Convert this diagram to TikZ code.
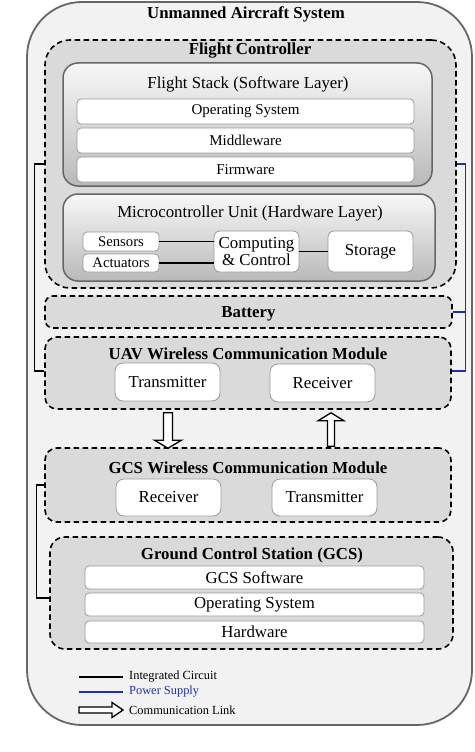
\documentclass[tikz,border=0pt]{standalone}
\usepackage{fontspec}
\setmainfont{Liberation Serif}
\usetikzlibrary{arrows.meta,calc}
\definecolor{outerfill}{HTML}{F2F2F2}
\definecolor{outerdraw}{HTML}{666666}
\definecolor{dashfill}{HTML}{DADADA}
\definecolor{boxdraw}{HTML}{9A9A9A}
\definecolor{pwr}{HTML}{1F2FB0}
\tikzset{
  big/.style={font=\fontsize{16.8}{18}\selectfont},
  mid/.style={font=\fontsize{15}{16}\selectfont},
  sml/.style={font=\fontsize{14.7}{16}\selectfont},
  bigb/.style={font=\fontsize{16.8}{18}\selectfont\bfseries},
  dashbox/.style={draw=black, line width=1.6pt, dash pattern=on 5.5pt off 3.5pt, fill=dashfill, inner sep=0pt},
  layerbox/.style={draw=outerdraw, line width=1.5pt, top color=gray!6, bottom color=gray!55, rounded corners=15pt, inner sep=0pt},
  whitebox/.style={draw=boxdraw, line width=0.8pt, fill=white, rounded corners=4pt, inner sep=0pt},
  ic/.style={draw=black, line width=1.2pt},
  ps/.style={draw=pwr, line width=1.2pt},
  hollow/.style={draw=black, line width=1.3pt, fill=white, line join=miter},
}
\begin{document}
\begin{tikzpicture}[x=1pt, y=-1pt]
\useasboundingbox (0,0) rectangle (474,752);
% outer
\node[draw=outerdraw, line width=1.8pt, fill=outerfill, rounded corners=55pt, minimum width=445pt, minimum height=723pt, inner sep=0pt] (uas) at (249.5,363.5) {};
\node[bigb] (uastitle) at (246,14) {Unmanned Aircraft System};
% flight controller
\node[dashbox, rounded corners=25pt, minimum width=411pt, minimum height=248pt] (fc) at (250.5,164) {};
\node[bigb] (fctitle) at (250,51) {Flight Controller};
% flight stack
\node[layerbox, minimum width=369pt, minimum height=123pt] (fs) at (247.5,124.5) {};
\node[big] (fstitle) at (248,84) {Flight Stack (Software Layer)};
\node[whitebox, mid, minimum width=337pt, minimum height=25pt] (os1) at (245.5,111.5) {Operating System};
\node[whitebox, mid, minimum width=337pt, minimum height=25pt] (mw) at (245.5,140.5) {Middleware};
\node[whitebox, mid, minimum width=337pt, minimum height=25pt] (fw) at (245.5,169.5) {Firmware};
% MCU
\node[layerbox, minimum width=372pt, minimum height=87pt] (mcu) at (249,237.5) {};
\node[big] (mcutitle) at (250,213) {Microcontroller Unit (Hardware Layer)};
\node[whitebox, sml, minimum width=76pt, minimum height=19pt] (sens) at (121,241.5) {Sensors};
\node[whitebox, sml, minimum width=76pt, minimum height=18pt] (act) at (121,263) {Actuators};
\node[whitebox, big, rounded corners=6pt, minimum width=85pt, minimum height=41pt, align=center] (cc) at (256.5,251.5) {\fontsize{16.8}{19}\selectfont Computing\\[-1pt]\fontsize{16.8}{19}\selectfont \& Control};
\node[whitebox, big, rounded corners=6pt, minimum width=85pt, minimum height=41pt] (stor) at (370.5,251.5) {Storage};
\draw[ic] (sens.east) -- (sens.east -| cc.west);
\draw[ic] (act.east) -- (act.east -| cc.west);
\draw[ic] (cc.east) -- (stor.west);
% battery
\node[dashbox, rounded corners=8pt, minimum width=407pt, minimum height=32pt] (bat) at (248.5,312) {};
\node[bigb] (battitle) at ($(bat.center)+(0,2)$) {Battery};
% UAV comm
\node[dashbox, rounded corners=12pt, minimum width=406pt, minimum height=72pt] (uav) at (248,373) {};
\node[bigb] (uavtitle) at (248,354) {UAV Wireless Communication Module};
\node[whitebox, big, rounded corners=8pt, minimum width=105pt, minimum height=38pt] (uavtx) at (167.5,382) {Transmitter};
\node[whitebox, big, rounded corners=8pt, minimum width=105pt, minimum height=38pt] (uavrx) at (322.5,383) {Receiver};
% GCS comm
\node[dashbox, rounded corners=12pt, minimum width=406pt, minimum height=74pt] (gcsw) at (248,485) {};
\node[bigb] (gcswtitle) at (248,468) {GCS Wireless Communication Module};
\node[whitebox, big, rounded corners=8pt, minimum width=105pt, minimum height=37pt] (gcsrx) at (168.5,497.5) {Receiver};
\node[whitebox, big, rounded corners=8pt, minimum width=105pt, minimum height=37pt] (gcstx) at (324.5,497.5) {Transmitter};
% GCS
\node[dashbox, rounded corners=15pt, minimum width=403pt, minimum height=112pt] (gcs) at (251.5,593) {};
\node[bigb] (gcstitle) at (252,555) {Ground Control Station (GCS)};
\node[whitebox, big, minimum width=339pt, minimum height=23pt] (gsw) at (254.5,577.5) {GCS Software};
\node[whitebox, big, minimum width=339pt, minimum height=23pt] (gos) at (254.5,604.5) {Operating System};
\node[whitebox, big, minimum width=339pt, minimum height=22pt] (ghw) at (254.5,632) {Hardware};
% connectors
\draw[ic] (fc.west) -- ++(-10,0) |- ($(uav.west)+(0,-2)$);
\draw[ic] (gcsw.west) -- ++(-8,0) |- ($(gcs.west)+(0,5)$);
\draw[ps] (fc.east) -- ++(9,0) coordinate (pb) |- ($(uav.east)+(0,-2)$);
\draw[ps] (bat.east) -- (bat.east -| pb);
% communication links (hollow arrows)
\coordinate (dnS) at ($(uav.south -| uavtx.south)+(0.5,3)$);
\coordinate (dnE) at ($(gcsw.north -| uavtx.south)+(0.5,1)$);
\draw[hollow] ($(dnS)+(-4.5,0)$) -- ($(dnE)+(-4.5,-8)$) -- ($(dnE)+(-13.5,-8)$) -- (dnE)
  -- ($(dnE)+(13.5,-8)$) -- ($(dnE)+(4.5,-8)$) -- ($(dnS)+(4.5,0)$) -- cycle;
\coordinate (upS) at ($(gcsw.north -| uavrx.south)+(8.5,-1)$);
\coordinate (upE) at ($(uav.south -| uavrx.south)+(8.5,3)$);
\draw[hollow] ($(upS)+(-3.5,0)$) -- ($(upE)+(-3.5,8)$) -- ($(upE)+(-13,8)$) -- (upE)
  -- ($(upE)+(13,8)$) -- ($(upE)+(3.5,8)$) -- ($(upS)+(3.5,0)$) -- cycle;
% legend
\coordinate (l1a) at (79,677); \coordinate (l1b) at (123,677);
\coordinate (l2a) at (79,692); \coordinate (l2b) at (123,692);
\coordinate (l3a) at (79,710); \coordinate (l3b) at (123,710);
\draw[ic] (l1a) -- (l1b);
\draw[ps] (l2a) -- (l2b);
\draw[hollow] ($(l3a)+(0,-3)$) -- ($(l3b)+(-11,-3)$) -- ($(l3b)+(-11,-7.5)$) -- (l3b)
  -- ($(l3b)+(-11,7.5)$) -- ($(l3b)+(-11,3)$) -- ($(l3a)+(0,3)$) -- cycle;
\node[anchor=west, font=\fontsize{12.4}{14}\selectfont, inner sep=0pt] (lg1) at (129,677) {Integrated Circuit};
\node[anchor=west, font=\fontsize{12.4}{14}\selectfont, inner sep=0pt, text=pwr] (lg2) at (129,692) {Power Supply};
\node[anchor=west, font=\fontsize{12.4}{14}\selectfont, inner sep=0pt] (lg3) at (129,710) {Communication Link};
\end{tikzpicture}
\end{document}
